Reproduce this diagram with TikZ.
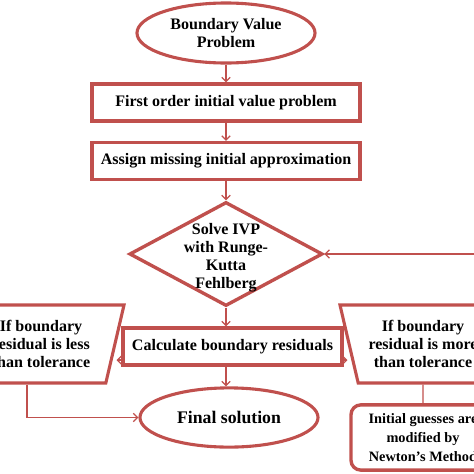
\documentclass[tikz,border=0pt]{standalone}
\usepackage{fontspec}
\setmainfont{Liberation Serif}
\usetikzlibrary{arrows.meta, shapes.geometric}
\definecolor{flowred}{HTML}{C0504D}

\begin{document}
\begin{tikzpicture}[
  x=0.025cm, y=-0.025cm,
  font=\bfseries\fontsize{11.4}{12.8}\selectfont,
  term/.style={draw=flowred, line width=2.2pt, ellipse, inner sep=0pt, minimum width=4.45cm, minimum height=1.5cm, align=center},
  box/.style={draw=flowred, line width=2.4pt, inner sep=0pt, minimum height=0.92cm, align=center},
  dec/.style={draw=flowred, line width=2.4pt, diamond, inner sep=0pt, minimum width=4.83cm, minimum height=2.6cm},
  io/.style={draw=flowred, line width=2.2pt, trapezium, trapezium stretches body, shape border rotate=180,
    trapezium left angle=69, trapezium right angle=69, inner xsep=2pt, inner ysep=0pt,
    minimum width=4.15cm, minimum height=1.95cm, align=center},
  note/.style={draw=flowred, line width=2.4pt, rounded corners=7pt, inner sep=0pt, minimum width=3.6cm, minimum height=1.63cm, align=center},
  arr/.style={-{Straight Barb[length=3pt, width=6pt]}, draw=flowred, line width=0.9pt},
  lin/.style={draw=flowred, line width=0.9pt}
]
  \useasboundingbox (0,0) rectangle (474,474);
  \node[term] (bvp) at (226,33) {Boundary Value\\Problem};
  \node[box, minimum width=6.7cm] (ivp) at (226,102.5) {First order initial value problem};
  \node[box, minimum width=6.7cm] (guess) at (226,161) {Assign missing initial approximation};
  \node[dec, label={[align=center, yshift=-0.1cm]center:Solve IVP\\with Runge-\\Kutta\\Fehlberg}] (solve) at (226,254) {};
  \node[box, minimum width=5.48cm] (calc) at (232.5,346.5) {Calculate boundary residuals};
  \node[term, minimum height=1.48cm, font=\bfseries\fontsize{12.6}{14}\selectfont] (final) at (229,417.5) {Final solution};
  \node[io] (less) at (41,344) {If boundary\\residual is less\\than tolerance};
  \node[io] (more) at (423,344) {If boundary\\residual is more\\than tolerance};
  \node[note, font=\bfseries\fontsize{10.2}{13.5}\selectfont] (newton) at (423,437.5) {Initial guesses are\\modified by\\Newton's Method};
  \draw[arr] (bvp) -- (ivp); \draw[arr] (ivp) -- (guess);
  \draw[arr] (guess) -- (solve);
  \draw[arr] (solve.south) -- (solve.south |- calc.north);
  \draw[arr] (solve.south |- calc.south) -- (solve.south |- final.north);
  \draw[arr] ([yshift=-0.34cm]calc.west) -- ([yshift=-0.34cm]calc.west -| less.east);
  \draw[arr] ([yshift=-0.34cm]calc.east) -- ([yshift=-0.34cm]calc.east -| more.west);
  \draw[arr] ([xshift=-0.35cm]less.south) |- (final.west);
  \draw[lin] (more.south) -- (newton.north);
  \draw[arr] (newton.east) -- ++(10,0) |- (solve.east);
\end{tikzpicture}
\end{document}
